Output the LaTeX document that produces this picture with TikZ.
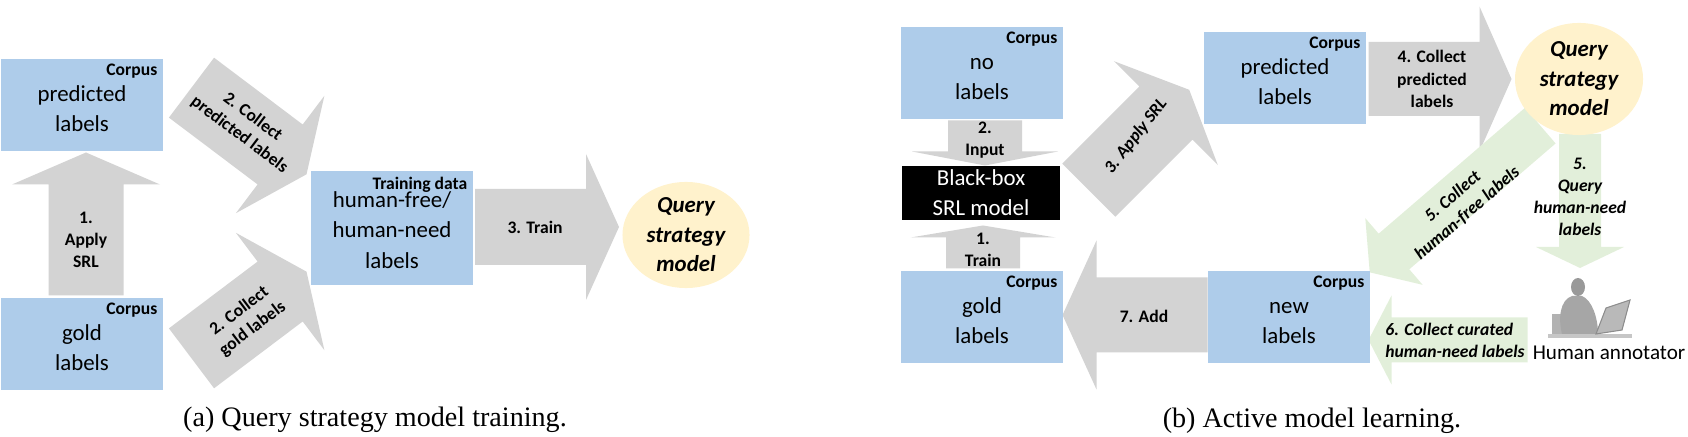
\documentclass[tikz,border=0pt]{standalone}
\usepackage{fontspec}
\setmainfont{Carlito}
\newfontfamily\capfont{Liberation Serif}
\usepackage{tikz}
\usetikzlibrary{positioning, shapes.geometric}
\definecolor{boxblue}{RGB}{174,204,234}
\definecolor{arrowgray}{RGB}{211,211,211}
\definecolor{arrowgreen}{RGB}{226,239,218}
\definecolor{modelyellow}{RGB}{255,242,204}
% block arrow: [colour]{centre}{angle}{length}{shaft width}{head width}{head length}
\newcommand{\blockarrow}[7][arrowgray]{%
  \fill[#1, shift={#2}, rotate=#3]
    ({-#4/2},{-#5/2}) -- ({#4/2-#7},{-#5/2}) -- ({#4/2-#7},{-#6/2}) -- ({#4/2},0)
    -- ({#4/2-#7},{#6/2}) -- ({#4/2-#7},{#5/2}) -- ({-#4/2},{#5/2}) -- cycle;}
\begin{document}
\begin{tikzpicture}[x=0.01cm, y=-0.01cm,
  corpus box/.style={rectangle, fill=boxblue, minimum width=1.61cm, minimum height=0.92cm, inner sep=0pt,
    align=center, font=\fontsize{6.5}{8.6}\selectfont},
  corpus tag/.style={anchor=north east, inner sep=1.5pt, font=\fontsize{5}{6}\selectfont\bfseries},
  step label/.style={align=center, inner sep=0pt, font=\fontsize{5}{6.3}\selectfont\bfseries},
  green label/.style={step label, font=\fontsize{5}{6.3}\selectfont\bfseries\itshape},
  model node/.style={ellipse, fill=modelyellow, inner sep=0pt, align=center,
    font=\fontsize{6.5}{8.4}\selectfont\bfseries\itshape}]
\useasboundingbox (0,0) rectangle (1688,437);

% (a) query strategy model training
\blockarrow{(86,224)}{90}{143}{75}{148}{32}
\blockarrow{(249,131)}{-37}{144}{75}{147}{33}
\blockarrow{(249,315)}{37}{144}{75}{147}{33}
\blockarrow{(547,227)}{0}{144}{76}{146}{33}

\node[corpus box] (pred) at (82,105) {\\[-2pt]predicted\\labels};
\node[corpus tag] at (pred.north east) {Corpus};
\node[corpus box] (gold) at (82,344) {\\[-2pt]gold\\labels};
\node[corpus tag] at (gold.north east) {Corpus};
\node[corpus box, minimum height=1.13cm] (train) at (392,228) {\\[-3pt]human-free/\\human-need\\labels};
\node[corpus tag] at (train.north east) {Training data};
\node[model node, minimum width=1.27cm, minimum height=1.06cm] (qsm) at (686,235) {Query\\strategy\\model};

\node[step label] at (86,240) {1.\\Apply\\SRL};
\node[step label, rotate=-37] at (246,126) {2. Collect\\predicted labels};
\node[step label, rotate=37] at (246,320) {2. Collect\\gold labels};
\node[step label] at (535,227) {3. Train};

\node[font=\capfont\fontsize{8}{9}\selectfont] (capa) at (375,420) {(a) Query strategy model training.};

% (b) active model learning
\blockarrow{(985,143)}{-90}{45}{74}{146}{14}
\blockarrow{(983,247)}{90}{43}{74}{145}{12}
\blockarrow{(1139,140)}{45}{142}{75}{147}{33}
\blockarrow{(1440,79)}{0}{143}{74}{145}{32}
\blockarrow{(1135,315)}{180}{145}{75}{149}{34}
\blockarrow[arrowgreen]{(1580,201)}{-90}{134}{42}{88}{21}
\blockarrow[arrowgreen]{(1455,199)}{220.7}{225}{47}{88}{32}
\blockarrow[arrowgreen]{(1448,340)}{180}{159}{45}{89}{23}

\node[corpus box] (nolab) at (982,73) {\\[-2pt]no\\labels};
\node[corpus tag] at (nolab.north east) {Corpus};
\node[rectangle, fill=black, text=white, minimum width=1.57cm, minimum height=0.53cm, inner sep=0pt,
  align=center, font=\fontsize{6.5}{8.6}\selectfont] (srl) at (981,193) {Black-box\\SRL model};
\node[corpus box] (goldb) at (982,317) {\\[-2pt]gold\\labels};
\node[corpus tag] at (goldb.north east) {Corpus};
\node[corpus box] (predb) at (1285,78) {\\[-2pt]predicted\\labels};
\node[corpus tag] at (predb.north east) {Corpus};
\node[corpus box] (newb) at (1289,317) {\\[-2pt]new\\labels};
\node[corpus tag] at (newb.north east) {Corpus};
\node[model node, minimum width=1.28cm, minimum height=1.12cm] (qsmb) at (1579,79) {Query\\strategy\\model};

\node[step label] at (985,140) {2.\\Input};
\node[step label] at (983,250) {1.\\Train};
\node[step label, font=\fontsize{5}{6.3}\selectfont\bfseries\itshape, rotate=52] at (1136,136) {3. Apply SRL};
\node[step label] at (1432,79) {4. Collect\\predicted\\labels};
\node[step label] at (1144,316) {7. Add};
\node[green label] at (1580,197) {5.\\Query\\human-need\\labels};
\node[green label, rotate=41] at (1460,205) {5. Collect\\human-free labels};
\node[green label, align=left] at (1455,340) {6. Collect curated\\human-need labels};

% human annotator
\node[inner sep=0pt, minimum width=0.9cm, minimum height=0.57cm] (annot) at (1587,310) {};
\fill[gray!60] (1552,314) rectangle (1567,336);
\fill[gray!45] (1548,334) rectangle (1632,338);
\fill[gray!70] (1572,296) .. controls (1560,300) and (1558,318) .. (1562,334) -- (1598,334) .. controls (1598,318) and (1592,300) .. (1582,296) -- cycle;
\fill[gray!80] (1578,287) ellipse (7 and 9);
\fill[gray!55] (1596,334) -- (1606,308) -- (1630,300) -- (1622,330) -- cycle;
\draw[gray!90, line width=0.3pt] (1596,334) -- (1606,308) -- (1630,300) -- (1622,330) -- cycle;
\node[font=\fontsize{6}{7.5}\selectfont, anchor=east, inner sep=0pt] (annotlab) at (1686,353) {Human annotator};

\node[font=\capfont\fontsize{8}{9}\selectfont] (capb) at (1312,421) {(b) Active model learning.};
\end{tikzpicture}
\end{document}
